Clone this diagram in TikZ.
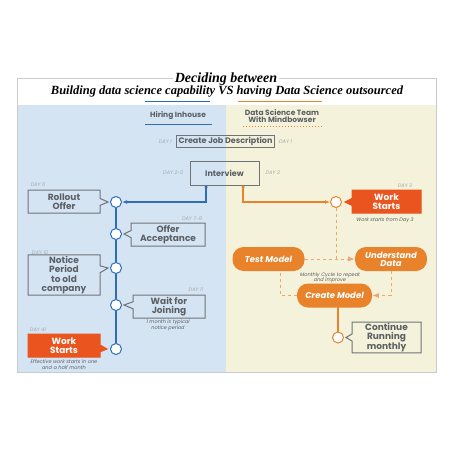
\documentclass[tikz,border=0pt]{standalone}
\usepackage{fontspec}
\setmainfont{Liberation Serif}
\setsansfont{Poppins}
\usetikzlibrary{arrows.meta, positioning, calc, shapes.callouts}
\definecolor{laneblue}{HTML}{D5E4F3}
\definecolor{laneyellow}{HTML}{F4F2DA}
\definecolor{flowblue}{HTML}{2F6DB5}
\definecolor{floworange}{HTML}{E8832C}
\definecolor{startred}{HTML}{E9541F}
\definecolor{cardgray}{HTML}{6F7479}
\definecolor{cardtext}{HTML}{5B6066}
\definecolor{daygray}{HTML}{A3A7AB}
\definecolor{framegray}{HTML}{C9CCCF}

\begin{document}
\begin{tikzpicture}[x=1pt, y=-1pt, >=Latex,
      card/.style={rectangle callout, draw=cardgray, line width=1pt,
        text=cardtext, align=center, inner sep=1pt,
        font=\sffamily\bfseries\fontsize{9}{9.5}\selectfont,
        callout pointer width=7pt, minimum width=72pt, minimum height=23pt},
      startcard/.style={card, fill=startred, draw=startred, text=white},
      plainbox/.style={draw=cardgray, line width=1pt, text=cardtext,
        font=\sffamily\bfseries\fontsize{8}{9}\selectfont, inner sep=2pt},
      daytag/.style={text=daygray, inner sep=0pt,
        font=\sffamily\itshape\fontsize{5}{6}\selectfont},
      note/.style={text=cardtext, align=center, inner sep=0pt,
        font=\sffamily\itshape\fontsize{5}{5.5}\selectfont},
      pill/.style={fill=floworange, rounded corners=11pt, text=white,
        minimum width=72pt, minimum height=24pt, align=center,
        font=\sffamily\bfseries\itshape\fontsize{8.5}{8.5}\selectfont},
      stop/.style={circle, draw, fill=white, line width=1pt,
        minimum size=11pt, inner sep=0pt},
      blueline/.style={draw=flowblue, line width=1.2pt},
      orangeline/.style={draw=floworange, line width=1.2pt},
      cycleline/.style={draw=floworange!70, line width=0.8pt, dashed}
    ]
      \useasboundingbox (0,0) rectangle (452,452);
      \fill[white] (0,0) rectangle (452,452);
      % lanes and frame
      \fill[laneblue] (17,105) rectangle (226,372);
      \fill[laneyellow] (226,105) rectangle (436,372);
      \draw[framegray, line width=0.8pt] (17,78) rectangle (436,372);
      \node[fill=white, inner sep=2pt,
        font=\rmfamily\bfseries\itshape\fontsize{14}{14}\selectfont]
        (title) at (226,79) {Deciding between};
      \node[font=\rmfamily\bfseries\itshape\fontsize{12.5}{12.5}\selectfont,
        inner sep=0pt] (subtitle) at (227,92)
        {Building data science capability VS having Data Science outsourced};
      \draw[flowblue, line width=0.9pt] (145,101) -- (210,101);
      \draw[floworange, line width=0.9pt] (238,101) -- (322,101);
      % lane headings
      \node[text=cardtext, font=\sffamily\bfseries\fontsize{7.5}{8}\selectfont]
        (inhouse) at (178,116) {Hiring Inhouse};
      \node[text=cardtext, align=center, inner sep=0pt,
        font=\sffamily\bfseries\fontsize{7.5}{7}\selectfont]
        (outsourced) at (282,116) {Data Science Team\\With Mindbowser};
      \draw[flowblue, line width=1pt] (145,124) -- (212,124);
      \draw[floworange, line width=1pt, dotted] (243,126) -- (322,126);
      % shared steps
      \node[plainbox] (jd) at (225.5,141.5) {Create Job Description};
      \node[daytag, left=4pt of jd] (jdl) {DAY 1};
      \node[daytag, right=4pt of jd] (jdr) {DAY 1};
      \node[plainbox, minimum width=69pt, minimum height=24pt] (iv) at (224.5,173)
        {Interview};
      \node[daytag, left=6pt of iv] (ivl) {DAY 2-5};
      \node[daytag, right=6pt of iv] (ivr) {DAY 2};
      % in-house timeline
      \node[stop, draw=flowblue] (s1) at (116,202) {};
      \node[stop, draw=flowblue] (s2) at (116,234) {};
      \node[stop, draw=flowblue] (s3) at (116,268) {};
      \node[stop, draw=flowblue] (s4) at (116,305) {};
      \node[stop, draw=flowblue] (s5) at (116,349) {};
      \draw[blueline] (s1) -- (s2) -- (s3) -- (s4) -- (s5);
      \draw[blueline, {Circle[length=3pt]}-{Latex[length=5pt]}]
        ([xshift=-18.5pt]iv.south) |- (s1);
      \node[card, callout absolute pointer={($(s1.west)+(-2,0)$)}]
        (rollout) at (64,201.5) {Rollout\\Offer};
      \node[daytag] (d6) at (38,185) {DAY 6};
      \node[card, minimum width=74pt,
        callout absolute pointer={($(s2.east)+(2,0)$)}]
        (accept) at (168,234.5) {Offer\\Acceptance};
      \node[daytag] (d7) at (192,219) {DAY 7-9};
      \node[card, minimum height=34pt,
        callout absolute pointer={($(s3.west)+(-2,0)$)}]
        (notice) at (64,275) {Notice\\Period\\to old\\company};
      \node[daytag] (d10) at (40,253) {DAY 10};
      \node[card, callout absolute pointer={($(s4.east)+(2,0)$)}]
        (wait) at (169,306.5) {Wait for\\Joining};
      \node[daytag] (d11) at (196,290) {DAY 11};
      \node[note] (waitnote) at (168,325) {1 month is typical\\notice period};
      \node[startcard, callout absolute pointer={($(s5.west)+(-3,0)$)}]
        (late) at (64,345.5) {Work\\Starts};
      \node[daytag] (d41) at (38,330) {DAY 41};
      \node[note] (latenote) at (64,364.5) {Effective work starts in one\\and a half month};
      % outsourced timeline
      \node[stop, draw=floworange] (t1) at (336,202) {};
      \draw[orangeline, {Circle[length=3pt]}-{Latex[length=5pt]}]
        ([xshift=18.5pt]iv.south) |- (t1);
      \node[startcard, minimum width=69pt,
        callout absolute pointer={($(t1.east)+(3,0)$)}]
        (early) at (386.5,201.5) {Work\\Starts};
      \node[daytag] (d3) at (405,186) {DAY 3};
      \node[note, text=cardgray!80!black] (earlynote) at (385,220)
        {Work starts from Day 3};
      \node[pill] (tm) at (268.5,259) {Test Model};
      \node[pill, font=\sffamily\bfseries\itshape\fontsize{8.5}{8}\selectfont]
        (ud) at (391,259) {Understand\\Data};
      \node[pill, minimum width=75pt] (cm) at (334.5,295.5) {Create Model};
      \node[note] (cyclenote) at (330,278) {Monthly Cycle to repeat\\and improve};
      \draw[cycleline] (t1) -- (t1 |- tm.east);
      \draw[cycleline, ->] (tm) -- (ud);
      \draw[cycleline, ->] (ud.south) |- (cm.east);
      \draw[cycleline] (cm.west) -| ([xshift=12pt]tm.south);
      \node[stop, draw=floworange] (t2) at (338,337.5) {};
      \draw[orangeline] (cm) -- (t2 |- cm.south) -- (t2);
      \node[card, minimum width=69pt, minimum height=29pt,
        callout absolute pointer={($(t2.east)+(2,0)$)}]
        (monthly) at (386.5,337.5) {Continue\\Running\\monthly};
    \end{tikzpicture}
\end{document}
